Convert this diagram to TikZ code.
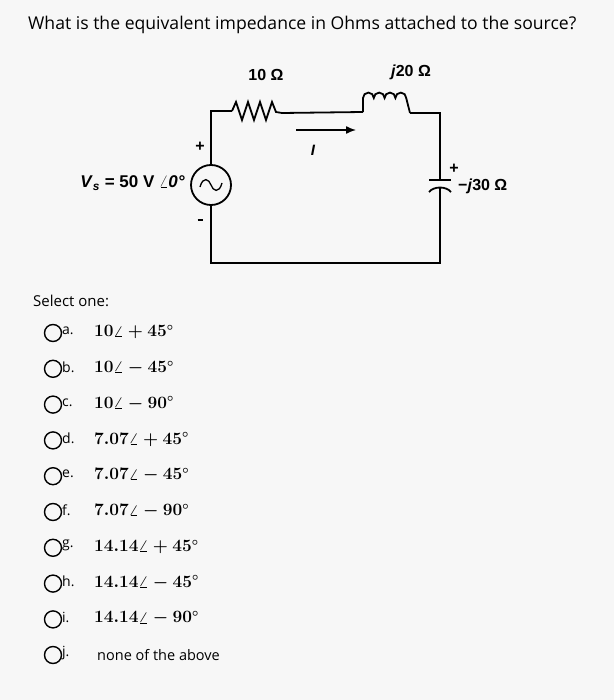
\documentclass[tikz,border=0pt]{standalone}
\usepackage{amsmath}
\usepackage[no-math]{fontspec}
\setmainfont{Open Sans}
\newfontfamily\lab{Liberation Sans}
\usetikzlibrary{decorations.pathmorphing,arrows.meta}
\begin{document}
\begin{tikzpicture}[x=1pt,y=-1pt,
 w/.style={line width=1.8pt},
 lbl/.style={font=\lab\bfseries\fontsize{16}{18}\selectfont,inner sep=0},
 opt/.style={circle,draw,line width=1.4pt,minimum size=17pt,inner sep=0},
 ltr/.style={anchor=west,font=\fontsize{14}{16}\selectfont,inner sep=0},
 ans/.style={anchor=west,font=\fontsize{16}{18}\selectfont,inner sep=0}]
\fill[gray!6] (0,0) rectangle (614,700);
\useasboundingbox (0,0) rectangle (614,700);
\node[anchor=west,inner sep=0,font=\fontsize{17.6}{20}\selectfont] (title) at (28,25) {What is the equivalent impedance in Ohms attached to the source?};
% circuit
\coordinate (tl) at (211,111); \coordinate (tr) at (440,113);
\coordinate (bl) at (211,263); \coordinate (br) at (440,263);
\node[circle,draw,w,minimum size=40pt,inner sep=0] (src) at (211,185) {};
\draw[line width=1.3pt] (200,187) .. controls (203,176) and (209,179) .. (211,185) .. controls (213,191) and (219,194) .. (222,183);
\coordinate (r1) at (232,111); \coordinate (r2) at (282,113);
\coordinate (l1) at (363,112); \coordinate (l2) at (410,113);
\coordinate (ct) at (440,180); \coordinate (cb) at (440,188);
\draw[w] (src.north) -- (tl) -- (r1);
\draw[w] (r1) -- (236,102) -- (242,120) -- (248,102) -- (254,120) -- (260,102) -- (266,120) -- (272,102) -- (276,112) -- (r2) -- (l1);
\draw[w] (l1) -- (363,98) arc(180:360:5.4) arc(180:360:5.4) arc(180:360:5.4) arc(180:360:5.4) -- (l2);
\draw[w] (l2) -- (tr) -- (ct);
\draw[w] (429,180) -- (451,180);
\draw[w] (429,192) .. controls (434,186) and (446,186) .. (451,192);
\draw[w] (440,187) -- (br) -- (bl) -- (src.south);
\coordinate (a1) at (296,130); \coordinate (a2) at (356,130);
\draw[line width=1.4pt,-{Latex[length=10pt,width=8pt]}] (a1) -- (a2);
\node[lbl,font=\lab\bfseries\itshape\fontsize{15}{17}\selectfont] (I) at (313,150) {I};
\node[lbl] (pl) at (200,147) {+};
\node[lbl] (mi) at (200,220) {\rule{5pt}{1.5pt}};
\node[lbl] (cp) at (454,169) {+};
\node[lbl] (R) at (266,75) {10 Ω};
\node[lbl] (L) at (411,72) {\textit{j}20 Ω};
\node[lbl,anchor=west] (C) at (458,186) {−\textit{j}30 Ω};
\node[lbl,anchor=east,font=\lab\bfseries\fontsize{17}{19}\selectfont] (V) at (185,183) {\textit{V}\textsubscript{\textit{s}} = 50 V \raisebox{0pt}{$\angle$}\textit{0°}};
% options
\node[anchor=west,inner sep=0,font=\fontsize{15}{17}\selectfont] (sel) at (33,301) {Select one:};
\foreach \l/\a [count=\i from 0] in {a./10\angle+45^\circ, b./10\angle-45^\circ, c./10\angle-90^\circ, d./7.07\angle+45^\circ, e./7.07\angle-45^\circ, f./7.07\angle-90^\circ, g./14.14\angle+45^\circ, h./14.14\angle-45^\circ, i./14.14\angle-90^\circ}{
 \node[opt] (o\i) at (53,333+35.8*\i) {};
 \node[ltr] (t\i) at (62,331+35.8*\i) {\l};
 \node[ans] (m\i) at (94,332+35.8*\i) {$\boldsymbol{\a}$};
}
\node[opt] (oj) at (53,655) {};
\node[ltr] (tj) at (62,653) {j.};
\node[ans,font=\fontsize{14.5}{16}\selectfont] (mj) at (97,655) {none of the above};
\end{tikzpicture}
\end{document}
